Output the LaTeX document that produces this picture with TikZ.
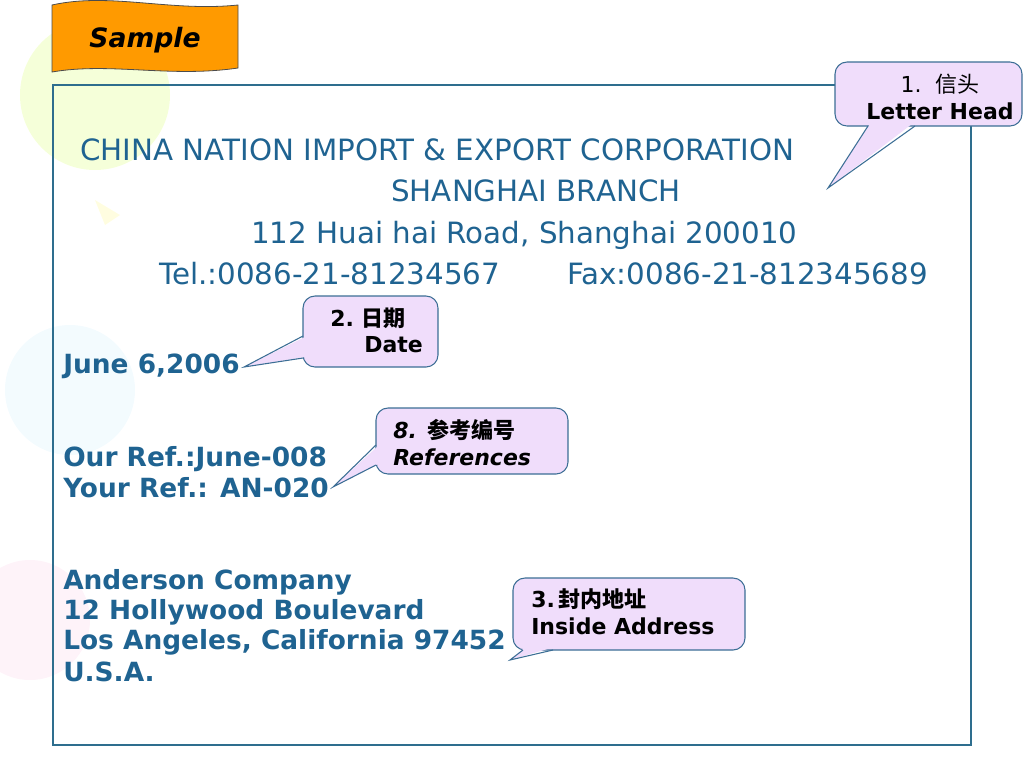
\documentclass[tikz,border=0pt]{standalone}
\usepackage{fontspec}
\setmainfont{DejaVu Sans}
\newfontfamily\cjk{Noto Sans CJK SC}
\begin{document}
\begin{tikzpicture}[x=0.75pt,y=-0.75pt,
  txt/.style={text=letter,font=\fontsize{22}{26}\selectfont,inner sep=0,anchor=base west},
  btxt/.style={text=letter,font=\fontsize{19.8}{23}\selectfont\bfseries,inner sep=0,anchor=base west},
  call/.style={fill=callfill,draw=callline,line width=0.8pt,rounded corners=9pt},
  ctxt/.style={font=\fontsize{16.5}{19}\selectfont\bfseries,inner sep=0,anchor=base west}]
\definecolor{letter}{HTML}{1F6391}
\definecolor{frame}{HTML}{2E6E8E}
\definecolor{callfill}{HTML}{F0DDFB}
\definecolor{callline}{HTML}{3C6E95}
\definecolor{flag}{HTML}{FF9A00}
\useasboundingbox (0,0) rectangle (1024,768);
% faint balloons
\fill[green!25!yellow,opacity=0.15] (95,95) circle (75);
\fill[cyan!40,opacity=0.12] (70,390) circle (65);
\fill[magenta!40,opacity=0.12] (30,620) circle (60);
\fill[yellow!60,opacity=0.2] (95,200) -- (120,215) -- (105,225) -- cycle;
% frame
\draw[frame,line width=0.8pt] (53,85) rectangle (971,745);
% flag
\draw[fill=flag,draw=black!70,line width=0.6pt] (52,5) .. controls (110,-8) and (170,12) .. (238,5) -- (238,68) .. controls (170,78) and (110,62) .. (52,72) -- cycle;
\node[font=\fontsize{20}{24}\selectfont\bfseries\itshape,inner sep=0] (sample) at (145,40) {Sample};
% letter head
\node[txt] (l1) at (80,160) {CHINA NATION IMPORT \& EXPORT CORPORATION};
\node[txt] (l2) at (391,201) {SHANGHAI BRANCH};
\node[txt] (l3) at (251,243) {112 Huai hai Road, Shanghai 200010};
\node[txt] (l4) at (159,284) {Tel.:0086-21-81234567\hspace{2.3em}Fax:0086-21-812345689};
\node[btxt] (d) at (63,373) {June 6,2006};
\node[btxt] (r1) at (63,466) {Our Ref.:June-008};
\node[btxt] (r2) at (63,497) {Your Ref.: AN-020};
\node[btxt] (a1) at (63,589) {Anderson Company};
\node[btxt] (a2) at (63,619) {12 Hollywood Boulevard};
\node[btxt] (a3) at (63,649) {Los Angeles, California 97452};
\node[btxt] (a4) at (63,681) {U.S.A.};
% callout 1
\draw[call] (835,62) rectangle (1022,126);
\fill[callfill] (870,124) -- (912,124) -- (828,188) -- cycle;
\draw[callline,line width=0.8pt] (868,126) -- (828,188) -- (915,126);
\node[inner sep=0,font=\fontsize{16.5}{19}\selectfont] (c1a) at (940,84) {1.\ \ {\cjk 信头}};
\node[inner sep=0,font=\fontsize{16.5}{19}\selectfont\bfseries] (c1b) at (940,111) {Letter Head};
% callout 2
\draw[call] (303,296) rectangle (438,367);
\fill[callfill] (305,337) -- (305,357) -- (244,367) -- cycle;
\draw[callline,line width=0.8pt] (303,336) -- (244,367) -- (303,358);
\node[ctxt] (c2a) at (330,326) {2.\ {\cjk 日期}};
\node[ctxt] (c2b) at (364,352) {Date};
% callout 8
\draw[call] (376,408) rectangle (568,474);
\fill[callfill] (378,446) -- (378,464) -- (333,487) -- cycle;
\draw[callline,line width=0.8pt] (376,445) -- (333,487) -- (376,465);
\node[ctxt,font=\fontsize{16.5}{19}\selectfont\bfseries\itshape] (c8a) at (393,438) {8. {\cjk 参考编号}};
\node[ctxt,font=\fontsize{16.5}{19}\selectfont\bfseries\itshape] (c8b) at (393,465) {References};
% callout 3
\draw[call] (513,578) rectangle (745,650);
\fill[callfill] (524,648) -- (551,648) -- (510,660) -- cycle;
\draw[callline,line width=0.8pt] (523,650) -- (510,660) -- (553,650);
\node[ctxt] (c3a) at (531,607) {3.\,{\cjk 封内地址}};
\node[ctxt] (c3b) at (531,634) {Inside Address};
\end{tikzpicture}
\end{document}
